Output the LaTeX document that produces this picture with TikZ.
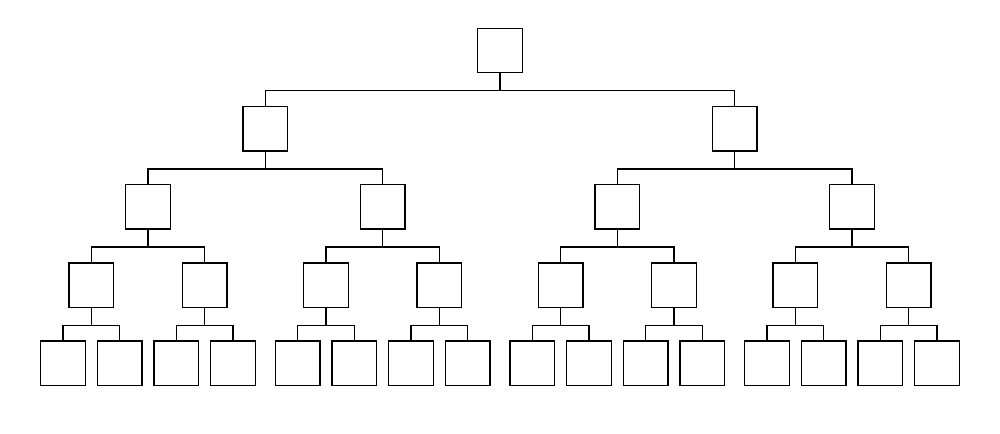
\documentclass[tikz,border=0pt]{standalone}
\usetikzlibrary{calc}
\tikzset{
  box/.style={draw, line width=0.8pt, minimum size=8.9mm, inner sep=0pt},
  link/.style={line width=0.8pt}
}
\begin{document}
\begin{tikzpicture}[x=0.2mm, y=-0.2mm] % binary tree, 5 levels
    \useasboundingbox (0,0) rectangle (1000,433);
    % bottom row: four groups of four
    \foreach \i in {0,...,15} {
        \pgfmathsetmacro\xx{63+234.67*int(\i/4)+56.67*mod(\i,4)}
        \node[box] (n4-\i) at (\xx,363.3) {};
    }
    % upper rows, each parent centred over its two children
    \foreach \l/\n in {3/7,2/3,1/1,0/0} {
        \pgfmathtruncatemacro\k{\l+1}
        \foreach \i in {0,...,\n} {
            \pgfmathtruncatemacro\a{2*\i}
            \pgfmathtruncatemacro\b{2*\i+1}
            \node[box] (n\l-\i) at ($(n\k-\a)!0.5!(n\k-\b)+(0,-78.2)$) {};
            \coordinate (j\l-\i) at ($(n\l-\i.south)+(0,17.2)$);
            \draw[link] (n\l-\i.south) -- (j\l-\i);
            \draw[link] (n\k-\a.north) |- (j\l-\i) -| (n\k-\b.north);
        }
    }
\end{tikzpicture}
\end{document}
